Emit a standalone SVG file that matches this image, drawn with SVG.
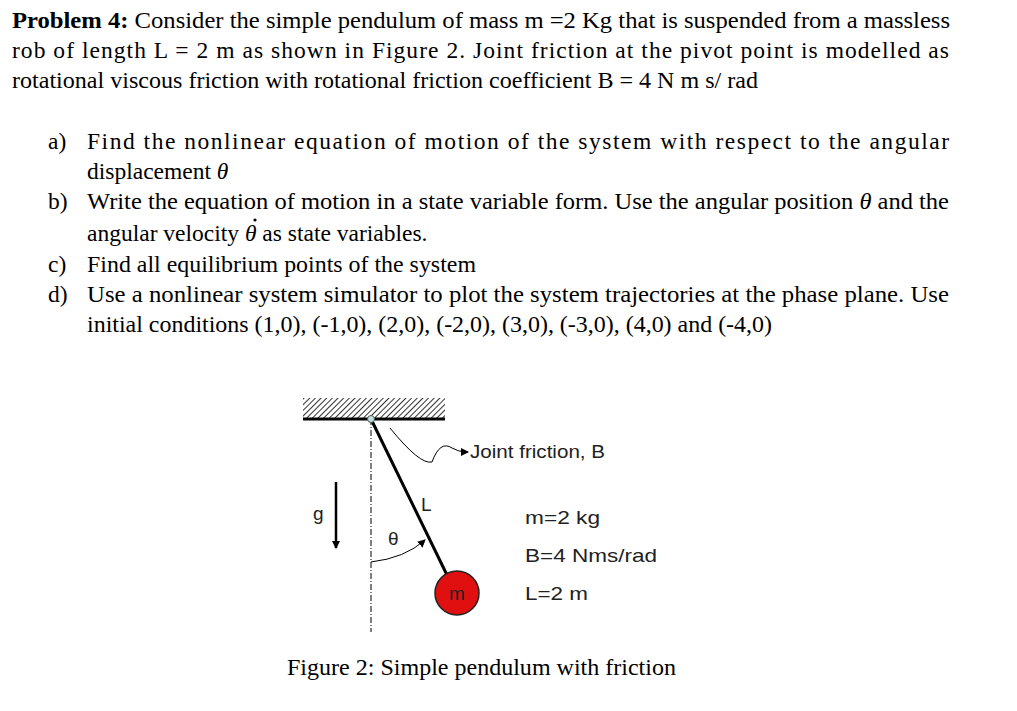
<svg xmlns="http://www.w3.org/2000/svg" width="1017" height="711" viewBox="0 0 1017 711">
<style>
.t{font-family:"Liberation Serif",serif;font-size:23.5px;fill:#000}
.s{font-family:"Liberation Sans",sans-serif;font-size:19px;fill:#222}
</style>
<defs>
<pattern id="h" width="4" height="4" patternUnits="userSpaceOnUse" patternTransform="rotate(45)"><rect width="4" height="4" fill="#fff"/><line x1="0" y1="0" x2="0" y2="4" stroke="#333" stroke-width="2"/></pattern>
<marker id="a" markerWidth="8" markerHeight="8" refX="7" refY="4" orient="auto" markerUnits="userSpaceOnUse"><path d="M0,0 L8,4 L0,8z" fill="#000"/></marker>
</defs>
<rect width="1017" height="711" fill="#fff"/>
<g id="text">
<text class="t" x="12" y="28" textLength="938" lengthAdjust="spacingAndGlyphs"><tspan font-weight="bold">Problem 4:</tspan> Consider the simple pendulum of mass m =2 Kg that is suspended from a massless</text>
<text class="t" x="12" y="58" textLength="937" lengthAdjust="spacing">rob of length L = 2 m as shown in Figure 2. Joint friction at the pivot point is modelled as</text>
<text class="t" x="12" y="88" textLength="746" lengthAdjust="spacingAndGlyphs">rotational viscous friction with rotational friction coefficient B = 4 N m s/ rad</text>
<text class="t" x="48" y="149">a)</text>
<text class="t" x="87" y="149" textLength="862" lengthAdjust="spacing">Find the nonlinear equation of motion of the system with respect to the angular</text>
<text class="t" x="87" y="179">displacement <tspan font-style="italic">θ</tspan></text>
<text class="t" x="48" y="209">b)</text>
<text class="t" x="87" y="209" textLength="862" lengthAdjust="spacingAndGlyphs">Write the equation of motion in a state variable form. Use the angular position <tspan font-style="italic">θ</tspan> and the</text>
<text class="t" x="87" y="241">angular velocity <tspan font-style="italic">θ</tspan> as state variables.</text>
<circle cx="255" cy="220" r="1.6" fill="#000"/>
<text class="t" x="48" y="272">c)</text>
<text class="t" x="87" y="272" textLength="389" lengthAdjust="spacingAndGlyphs">Find all equilibrium points of the system</text>
<text class="t" x="48" y="302">d)</text>
<text class="t" x="87" y="302" textLength="862" lengthAdjust="spacingAndGlyphs">Use a nonlinear system simulator to plot the system trajectories at the phase plane. Use</text>
<text class="t" x="87" y="332" textLength="685" lengthAdjust="spacingAndGlyphs">initial conditions (1,0), (-1,0), (2,0), (-2,0), (3,0), (-3,0), (4,0) and (-4,0)</text>
<text class="t" x="287" y="675" textLength="389" lengthAdjust="spacingAndGlyphs">Figure 2: Simple pendulum with friction</text>
</g>
<g id="ceiling"><rect x="303" y="398" width="142" height="20" fill="url(#h)"/><line x1="303" y1="419" x2="445" y2="419" stroke="#000" stroke-width="3"/></g>
<g id="connectors" fill="none" stroke="#000">
<line x1="371" y1="419" x2="371" y2="632" stroke-width="1" stroke-dasharray="6,2,1,2"/>
<line x1="371" y1="419" x2="447" y2="575" stroke-width="3"/>
<line x1="336" y1="482" x2="336" y2="548" stroke-width="2.5" marker-end="url(#a)"/>
<path d="M371,562 Q405,558 425,540" stroke-width="1" marker-end="url(#a)"/>
<path d="M390,428 Q420,465 432,462 Q440,440 452,448 Q458,452 468,452" stroke-width="1" marker-end="url(#a)"/>
</g>
<g id="pivot"><circle cx="371" cy="419" r="3.5" fill="#bfe0e0" stroke="#555"/></g>
<g id="mass"><circle cx="457" cy="593" r="22" fill="#e01010" stroke="#222" stroke-width="1.5"/><text class="s" x="457" y="600" text-anchor="middle">m</text></g>
<g id="labels">
<text class="s" x="470" y="458" textLength="135" lengthAdjust="spacingAndGlyphs">Joint friction, B</text>
<text class="s" x="313" y="520">g</text>
<text class="s" x="388" y="545">θ</text>
<text class="s" x="421" y="511">L</text>
<text class="s" x="525" y="524" textLength="75" lengthAdjust="spacingAndGlyphs">m=2 kg</text>
<text class="s" x="525" y="562" textLength="132" lengthAdjust="spacingAndGlyphs">B=4 Nms/rad</text>
<text class="s" x="525" y="600" textLength="63" lengthAdjust="spacingAndGlyphs">L=2 m</text>
</g>
</svg>
